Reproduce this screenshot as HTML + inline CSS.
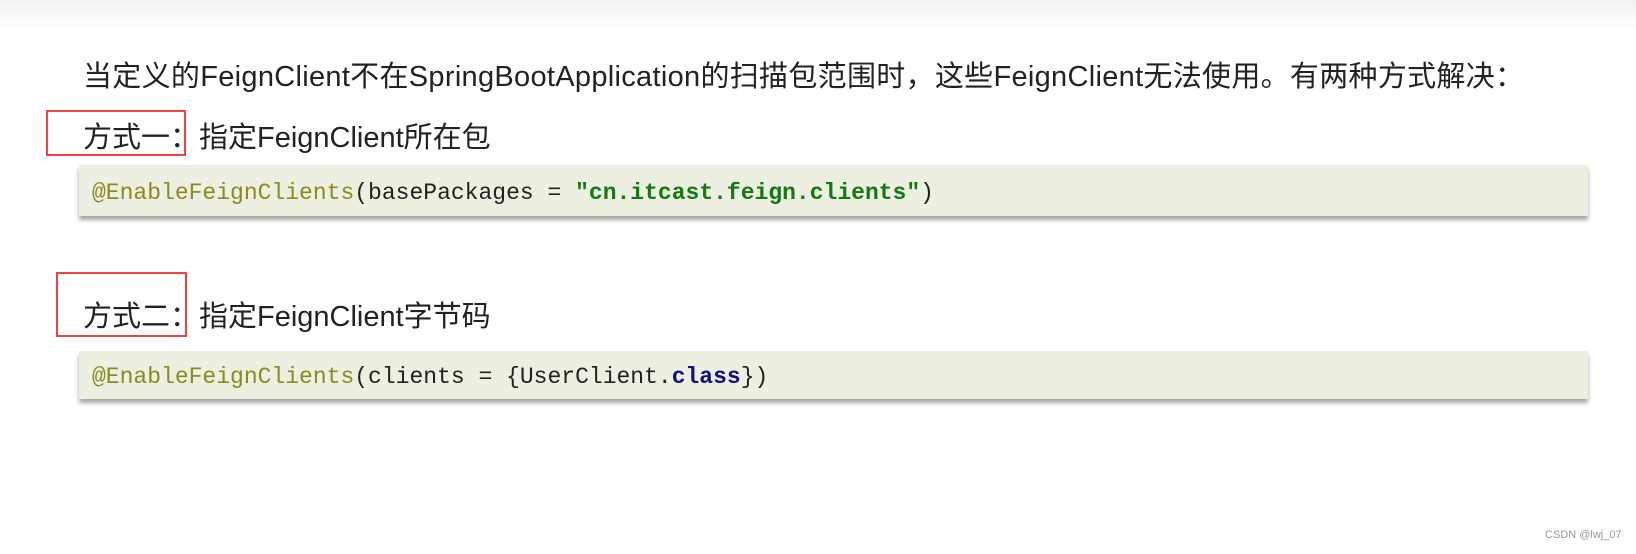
<!DOCTYPE html>
<html><head><meta charset="utf-8"><style>
body{margin:0;width:1636px;height:554px;overflow:hidden;background:#fff;position:relative;font-family:"Liberation Sans","Noto Sans CJK SC",sans-serif;color:#222}
.top{position:absolute;left:0;top:0;width:1636px;height:30px;background:linear-gradient(#f2f2f2,#fff)}
.t{position:absolute;font-size:29px;white-space:nowrap;line-height:1}
.red{position:absolute;border:2px solid #f04040}
.code{position:absolute;left:79px;width:1509px;background:#edf0e0;box-shadow:0 4px 4px rgba(0,0,0,0.35)}
.c{position:absolute;left:13px;font-family:"Liberation Mono",monospace;font-size:23px;white-space:nowrap;color:#222;line-height:1}
.a{color:#8a8a20}.s{color:#117a10;font-weight:bold}.k{color:#101080;font-weight:bold}
</style></head><body>
<div class="top"></div>
<div class="t" style="left:83px;top:63px;letter-spacing:0.3px">当定义的FeignClient不在SpringBootApplication的扫描包范围时，这些FeignClient无法使用。有两种方式解决：</div>
<div class="red" style="left:46px;top:110px;width:136px;height:42px"></div>
<div class="t" style="left:83px;top:124px">方式一：指定FeignClient所在包</div>
<div class="code" style="top:165px;height:51px"><div class="c" style="top:17px"><span class="a">@EnableFeignClients</span>(basePackages = <span class="s">"cn.itcast.feign.clients"</span>)</div></div>
<div class="red" style="left:56px;top:272px;width:127px;height:61px"></div>
<div class="t" style="left:83px;top:303px">方式二：指定FeignClient字节码</div>
<div class="code" style="top:351px;height:48px"><div class="c" style="top:15px"><span class="a">@EnableFeignClients</span>(clients = {UserClient.<span class="k">class</span>})</div></div>
<div style="position:absolute;left:1545px;top:529px;font-size:11px;color:#999">CSDN @lwj_07</div>
</body></html>
